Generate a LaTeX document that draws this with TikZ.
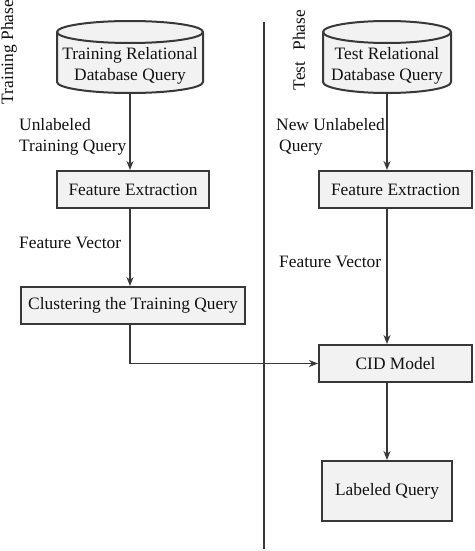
\documentclass[tikz,border=0pt]{standalone}
\usepackage{fontspec}
\setmainfont{Liberation Serif}
\usetikzlibrary{arrows.meta,calc}
\definecolor{boxfill}{HTML}{F2F2F2}
\definecolor{boxline}{HTML}{383838}
\definecolor{txt}{HTML}{111111}
\begin{document}
\begin{tikzpicture}[x=1pt,y=1pt,
  every node/.style={font=\fontsize{17.4}{21}\selectfont, text=txt, inner sep=0pt},
  procbox/.style={draw=boxline, fill=boxfill, line width=2pt, rectangle, align=center},
  cyl/.style={draw=boxline, fill=boxfill, line width=2pt},
  flow/.style={draw=boxline, line width=1.8pt, -{Stealth[length=9pt,width=7pt]}},
  lbl/.style={align=left, anchor=west},
  divider/.style={draw=boxline, line width=2pt}
]
\useasboundingbox (0,0) rectangle (474,-551);

% cylinders (drawn directly) with named frame nodes
\node[minimum width=146pt, minimum height=72pt] (dbL) at (130,-57) {};
\draw[cyl] (57,-32) -- (57,-82) arc[start angle=180,end angle=360,x radius=73,y radius=11]
  -- (203,-32) arc[start angle=0,end angle=180,x radius=73,y radius=11] -- cycle;
\draw[cyl, fill=none] (57,-32) arc[start angle=180,end angle=360,x radius=73,y radius=11];
\node[align=center] (dbLtext) at (130,-66) {Training Relational\\Database Query};

\node[minimum width=128pt, minimum height=72pt] (dbR) at (387,-57) {};
\draw[cyl] (323,-32) -- (323,-82) arc[start angle=180,end angle=360,x radius=64,y radius=11]
  -- (451,-32) arc[start angle=0,end angle=180,x radius=64,y radius=11] -- cycle;
\draw[cyl, fill=none] (323,-32) arc[start angle=180,end angle=360,x radius=64,y radius=11];
\node[align=center] (dbRtext) at (387,-66) {Test Relational\\Database Query};

% boxes
\node[procbox, minimum width=152pt, minimum height=37pt] (feL) at (133,-189.5) {Feature Extraction};
\node[procbox, minimum width=224pt, minimum height=37pt] (clu) at (133,-305.5) {Clustering the Training Query};
\node[procbox, minimum width=153pt, minimum height=37pt] (feR) at (395.5,-189.5) {Feature Extraction};
\node[procbox, minimum width=153pt, minimum height=37pt] (cid) at (395.5,-363.5) {CID Model};
\node[procbox, minimum width=130pt, minimum height=60pt] (lq) at (387,-491) {Labeled Query};

% divider
\coordinate (divTop) at (264,-22);
\coordinate (divBot) at (264,-549);
\draw[divider] (divTop) -- (divBot);

% phase titles
\node[rotate=90] (trainPhase) at (9,-52) {Training Phase};
\node[rotate=90] (testPhase) at (299,-50) {Test\hspace*{11pt}Phase};

% labels
\node[lbl] (l1) at (19,-137) {Unlabeled\\Training Query};
\node[lbl] (l2) at (19,-243) {Feature Vector};
\node[lbl] (l3) at (276,-137) {New Unlabeled\\\hspace*{3pt}Query};
\node[lbl] (l4) at (279,-262) {Feature Vector};

% connectors
\draw[flow] (dbL.south) -- (dbL.south |- feL.north);
\draw[flow] (dbL.south |- feL.south) -- (dbL.south |- clu.north);
\draw[flow] (dbL.south |- clu.south) |- (cid.west);
\draw[flow] (dbR.south) -- (dbR.south |- feR.north);
\draw[flow] (dbR.south |- feR.south) -- (dbR.south |- cid.north);
\draw[flow] (dbR.south |- cid.south) -- (lq.north);
\end{tikzpicture}
\end{document}
